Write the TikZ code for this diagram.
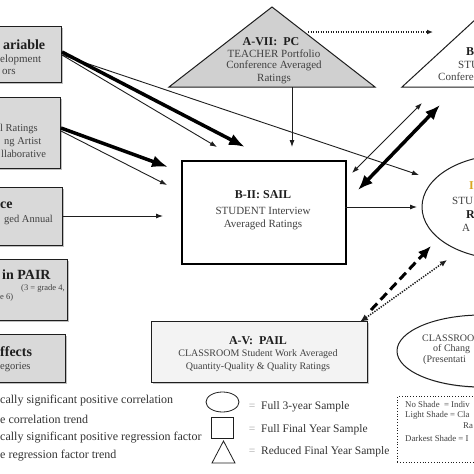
\documentclass[tikz,border=0pt]{standalone}
\usepackage{fontspec}
\setmainfont{Liberation Serif}
\usetikzlibrary{arrows.meta,shadows,shapes.geometric}
\definecolor{boxgray}{HTML}{D9D9D9}
\definecolor{trigray}{HTML}{D0D0D0}
\definecolor{lightbox}{HTML}{F3F3F3}
\definecolor{ink}{HTML}{1E1E1E}
\definecolor{goldtxt}{HTML}{D9A520}
\begin{document}
\begin{tikzpicture}[x=1pt,y=-1pt,
  lbox/.style={draw=ink, line width=1pt, fill=boxgray, inner sep=0pt,
    drop shadow={shadow xshift=1.5pt, shadow yshift=-1.5pt, fill=black!50}},
  bigttl/.style={font=\fontsize{14}{15}\selectfont\bfseries, inner sep=0pt, text=ink},
  ttl/.style={font=\fontsize{12}{13}\selectfont\bfseries, inner sep=0pt, text=ink},
  txt/.style={font=\fontsize{11}{12}\selectfont, inner sep=0pt, text=black!75},
  ltxt/.style={font=\fontsize{10.5}{12}\selectfont, inner sep=0pt, text=black!75},
  stxt/.style={font=\fontsize{8.5}{10}\selectfont, inner sep=0pt, text=black!75},
  ptxt/.style={font=\fontsize{10}{11}\selectfont, inner sep=0pt, text=black!75},
  leg/.style={font=\fontsize{12}{13}\selectfont, inner sep=0pt, text=black!80},
  rleg/.style={font=\fontsize{11.5}{13}\selectfont, inner sep=0pt, text=black!80},
  tiny/.style={font=\fontsize{8.8}{10}\selectfont, inner sep=0pt, text=black!75},
  thinarr/.style={draw=ink, line width=0.9pt, -{Latex[length=7pt,width=5pt]}},
  thinboth/.style={draw=ink, line width=0.9pt, {Latex[length=7pt,width=5pt]}-{Latex[length=7pt,width=5pt]}},
  thickarr/.style={draw=black, line width=3.5pt, -{Latex[length=16pt,width=12pt]}},
  thickboth/.style={draw=black, line width=3.5pt, {Latex[length=15pt,width=12pt]}-{Latex[length=15pt,width=12pt]}},
  dotarr/.style={draw=ink, line width=1.3pt, dash pattern=on 1.2pt off 1.3pt, -{Latex[length=6pt,width=5pt]}},
  dotboth/.style={draw=ink, line width=1.5pt, dash pattern=on 1.3pt off 1.3pt, {Latex[length=8pt,width=7pt]}-{Latex[length=7pt,width=6pt]}},
  dasharr/.style={draw=black, line width=3pt, dash pattern=on 9pt off 5pt, -{Latex[length=13pt,width=11pt]}},
  legshape/.style={draw=ink, line width=0.8pt}
]
\useasboundingbox (0,0) rectangle (474,474);
\fill[white] (0,0) rectangle (474,474);
\clip (0,0) rectangle (474,474);

% ---------- left boxes ----------
\node[lbox, minimum width=140pt, minimum height=56pt, anchor=north east] (iv) at (62,26) {};
\node[bigttl, anchor=west] (ivt) at (3,45) {ariable};
\node[txt, anchor=west] (iv2) at (0,60) {elopment};
\node[txt, anchor=west] (iv3) at (2,72) {ors};

\node[lbox, minimum width=140pt, minimum height=71pt, anchor=north east] (ra) at (61,97) {};
\node[ltxt, anchor=west] (ra1) at (0,129) {l Ratings};
\node[ltxt, anchor=west] (ra2) at (4,142) {ng Artist};
\node[ltxt, anchor=west] (ra3) at (1,154) {llaborative};

\node[lbox, minimum width=140pt, minimum height=58pt, anchor=north east] (ex) at (63,187) {};
\node[bigttl, anchor=west] (ext) at (0,205) {ce};
\node[ltxt, anchor=west] (ex2) at (4,220) {ged Annual};

\node[lbox, minimum width=140pt, minimum height=61pt, anchor=north east] (pa) at (68,259) {};
\node[bigttl, anchor=west] (pat) at (2,275) {in PAIR};
\node[stxt, anchor=west] (pa2) at (21,288) {(3 = grade 4,};
\node[stxt, anchor=west] (pa3) at (0,297) {e 6)};

\node[lbox, minimum width=140pt, minimum height=48pt, anchor=north east] (ef) at (66,334) {};
\node[bigttl, anchor=west] (eft) at (0,352) {ffects};
\node[ltxt, anchor=west] (ef2) at (0,367) {egories};

% ---------- A-VII triangle ----------
\filldraw[fill=trigray, draw=ink, line width=1pt] (169,87) -- (272,7) -- (375,87) -- cycle;
\node[ttl] (pc) at (271,42) {A-VII:\ \ PC};
\node[txt] (pc2) at (274,54) {TEACHER Portfolio};
\node[txt] (pc3) at (274,66) {Conference Averaged};
\node[txt] (pc4) at (274,79) {Ratings};
\coordinate (pcbase) at (292,87);
\coordinate (pcright) at (308,32);

% ---------- right triangle ----------
\filldraw[fill=white, draw=ink, line width=1pt] (402,87) -- (489,7) -- (576,87) -- cycle;
\node[ttl, anchor=west] (bt) at (466,52) {B};
\node[txt, anchor=west] (bt2) at (458,65) {STUD};
\node[txt, anchor=west] (bt3) at (438,77) {Confere};

% ---------- B-II SAIL ----------
\node[draw=black, line width=1.6pt, fill=white, minimum width=164pt, minimum height=103pt, anchor=north west] (sail) at (181,160) {};
\node[ttl] (sailt) at (263,195) {B-II: SAIL};
\node[txt] (sail2) at (263,211) {STUDENT Interview};
\node[txt] (sail3) at (263,225) {Averaged Ratings};

% ---------- right ellipse ----------
\node[ellipse, draw=ink, line width=1pt, fill=white, minimum width=166pt, minimum height=104pt, inner sep=0pt] (se) at (505,207) {};
\node[ttl, text=goldtxt, anchor=west] (set) at (469,186) {I};
\node[txt, anchor=west] (se2) at (452,201) {STU};
\node[ttl, anchor=west] (se3) at (466,215) {R};
\node[txt, anchor=west] (se4) at (462,228) {A};

% ---------- A-V PAIL ----------
\node[draw=ink, line width=1pt, fill=lightbox, minimum width=216pt, minimum height=61pt, anchor=north west,
  drop shadow={shadow xshift=1.5pt, shadow yshift=-1.5pt, fill=black!45}] (pail) at (151,321) {};
\node[ttl] (pailt) at (258,341) {A-V:\ \ PAIL};
\node[ptxt] (pail2) at (258,354) {CLASSROOM Student Work Averaged};
\node[ptxt] (pail3) at (258,367) {Quantity-Quality \& Quality Ratings};

% ---------- bottom-right ellipse ----------
\node[ellipse, draw=ink, line width=1pt, fill=white, minimum width=170pt, minimum height=72pt, inner sep=0pt,
  drop shadow={shadow xshift=1pt, shadow yshift=-1pt, fill=black!35}] (ce) at (482,351) {};
\node[ptxt, anchor=west] (ce1) at (422,338) {CLASSROO};
\node[ptxt, anchor=west] (ce2) at (433,349) {of Chang};
\node[ptxt, anchor=west] (ce3) at (423,360) {(Presentati};

% ---------- dotted shade legend ----------
\node[draw=ink, dotted, line width=0.8pt, minimum width=90pt, minimum height=66pt, anchor=north west] (shade) at (397,396) {};
\node[tiny, anchor=west] (sh1) at (405,404) {No Shade\ \ = Indiv};
\node[tiny, anchor=west] (sh2) at (405,415) {Light Shade = Cla};
\node[tiny, anchor=west] (sh3) at (463,426) {Ra};
\node[tiny, anchor=west] (sh4) at (405,438) {Darkest Shade = I};

% ---------- line legend (left) ----------
\node[leg, anchor=west] (l1) at (0,401) {cally significant positive correlation};
\node[leg, anchor=west] (l2) at (0,419) {e correlation trend};
\node[leg, anchor=west] (l3) at (0,438) {cally significant positive regression factor};
\node[leg, anchor=west] (l4) at (0,456) {e regression factor trend};

% ---------- shape legend ----------
\node[ellipse, legshape, minimum width=33pt, minimum height=20pt, inner sep=0pt] (lgell) at (222.5,402) {};
\node[rectangle, legshape, minimum width=22pt, minimum height=21pt, inner sep=0pt] (lgsq) at (222,427.5) {};
\draw[legshape] (212,463) -- (223.5,441) -- (235,463) -- cycle;
\node[rleg, text=black!35] (eq1) at (252,407) {=};
\node[rleg, text=black!35] (eq2) at (252,430) {=};
\node[rleg, text=black!35] (eq3) at (252,452) {=};
\node[rleg, anchor=west] (s1) at (261,407) {Full 3-year Sample};
\node[rleg, anchor=west] (s2) at (261,430) {Full Final Year Sample};
\node[rleg, anchor=west] (s3) at (261,452) {Reduced Final Year Sample};

% ---------- connector end points ----------
\coordinate (iva) at (62,52);
\coordinate (ivb) at (62,55);
\coordinate (t1) at (245,147);
\coordinate (t2) at (217,147);
\coordinate (t3) at (419,175);
\coordinate (raa) at (61,128);
\coordinate (rab) at (61,131);
\coordinate (t4) at (168,167);
\coordinate (t5) at (167,185);
\coordinate (exa) at (63,216);
\coordinate (t6) at (163,216);
\coordinate (t7) at (292,147);
\coordinate (t8) at (433,32);
\coordinate (d1a) at (352,173);
\coordinate (d1b) at (422,103);
\coordinate (d2a) at (358,190);
\coordinate (d2b) at (440,105);
\coordinate (sailr) at (345,207);
\coordinate (t9) at (417,207);
\coordinate (dsa) at (371,310);
\coordinate (dsb) at (431,246);
\coordinate (dta) at (360,322);
\coordinate (dtb) at (447,260);

% ---------- connectors ----------
\draw[thinarr] (ivb) -- (t3);
\draw[thinarr] (ivb) -- (t2);
\draw[thickarr] (iva) -- (t1);
\draw[thinarr] (rab) -- (t5);
\draw[thickarr] (raa) -- (t4);
\draw[thinarr] (exa) -- (t6);
\draw[thinarr] (pcbase) -- (t7);
\draw[dotarr] (pcright) -- (t8);
\draw[thinboth] (d1a) -- (d1b);
\draw[thickboth] (d2a) -- (d2b);
\draw[thinarr] (sailr) -- (t9);
\draw[dasharr] (dsa) -- (dsb);
\draw[dotboth] (dta) -- (dtb);
\end{tikzpicture}
\end{document}
